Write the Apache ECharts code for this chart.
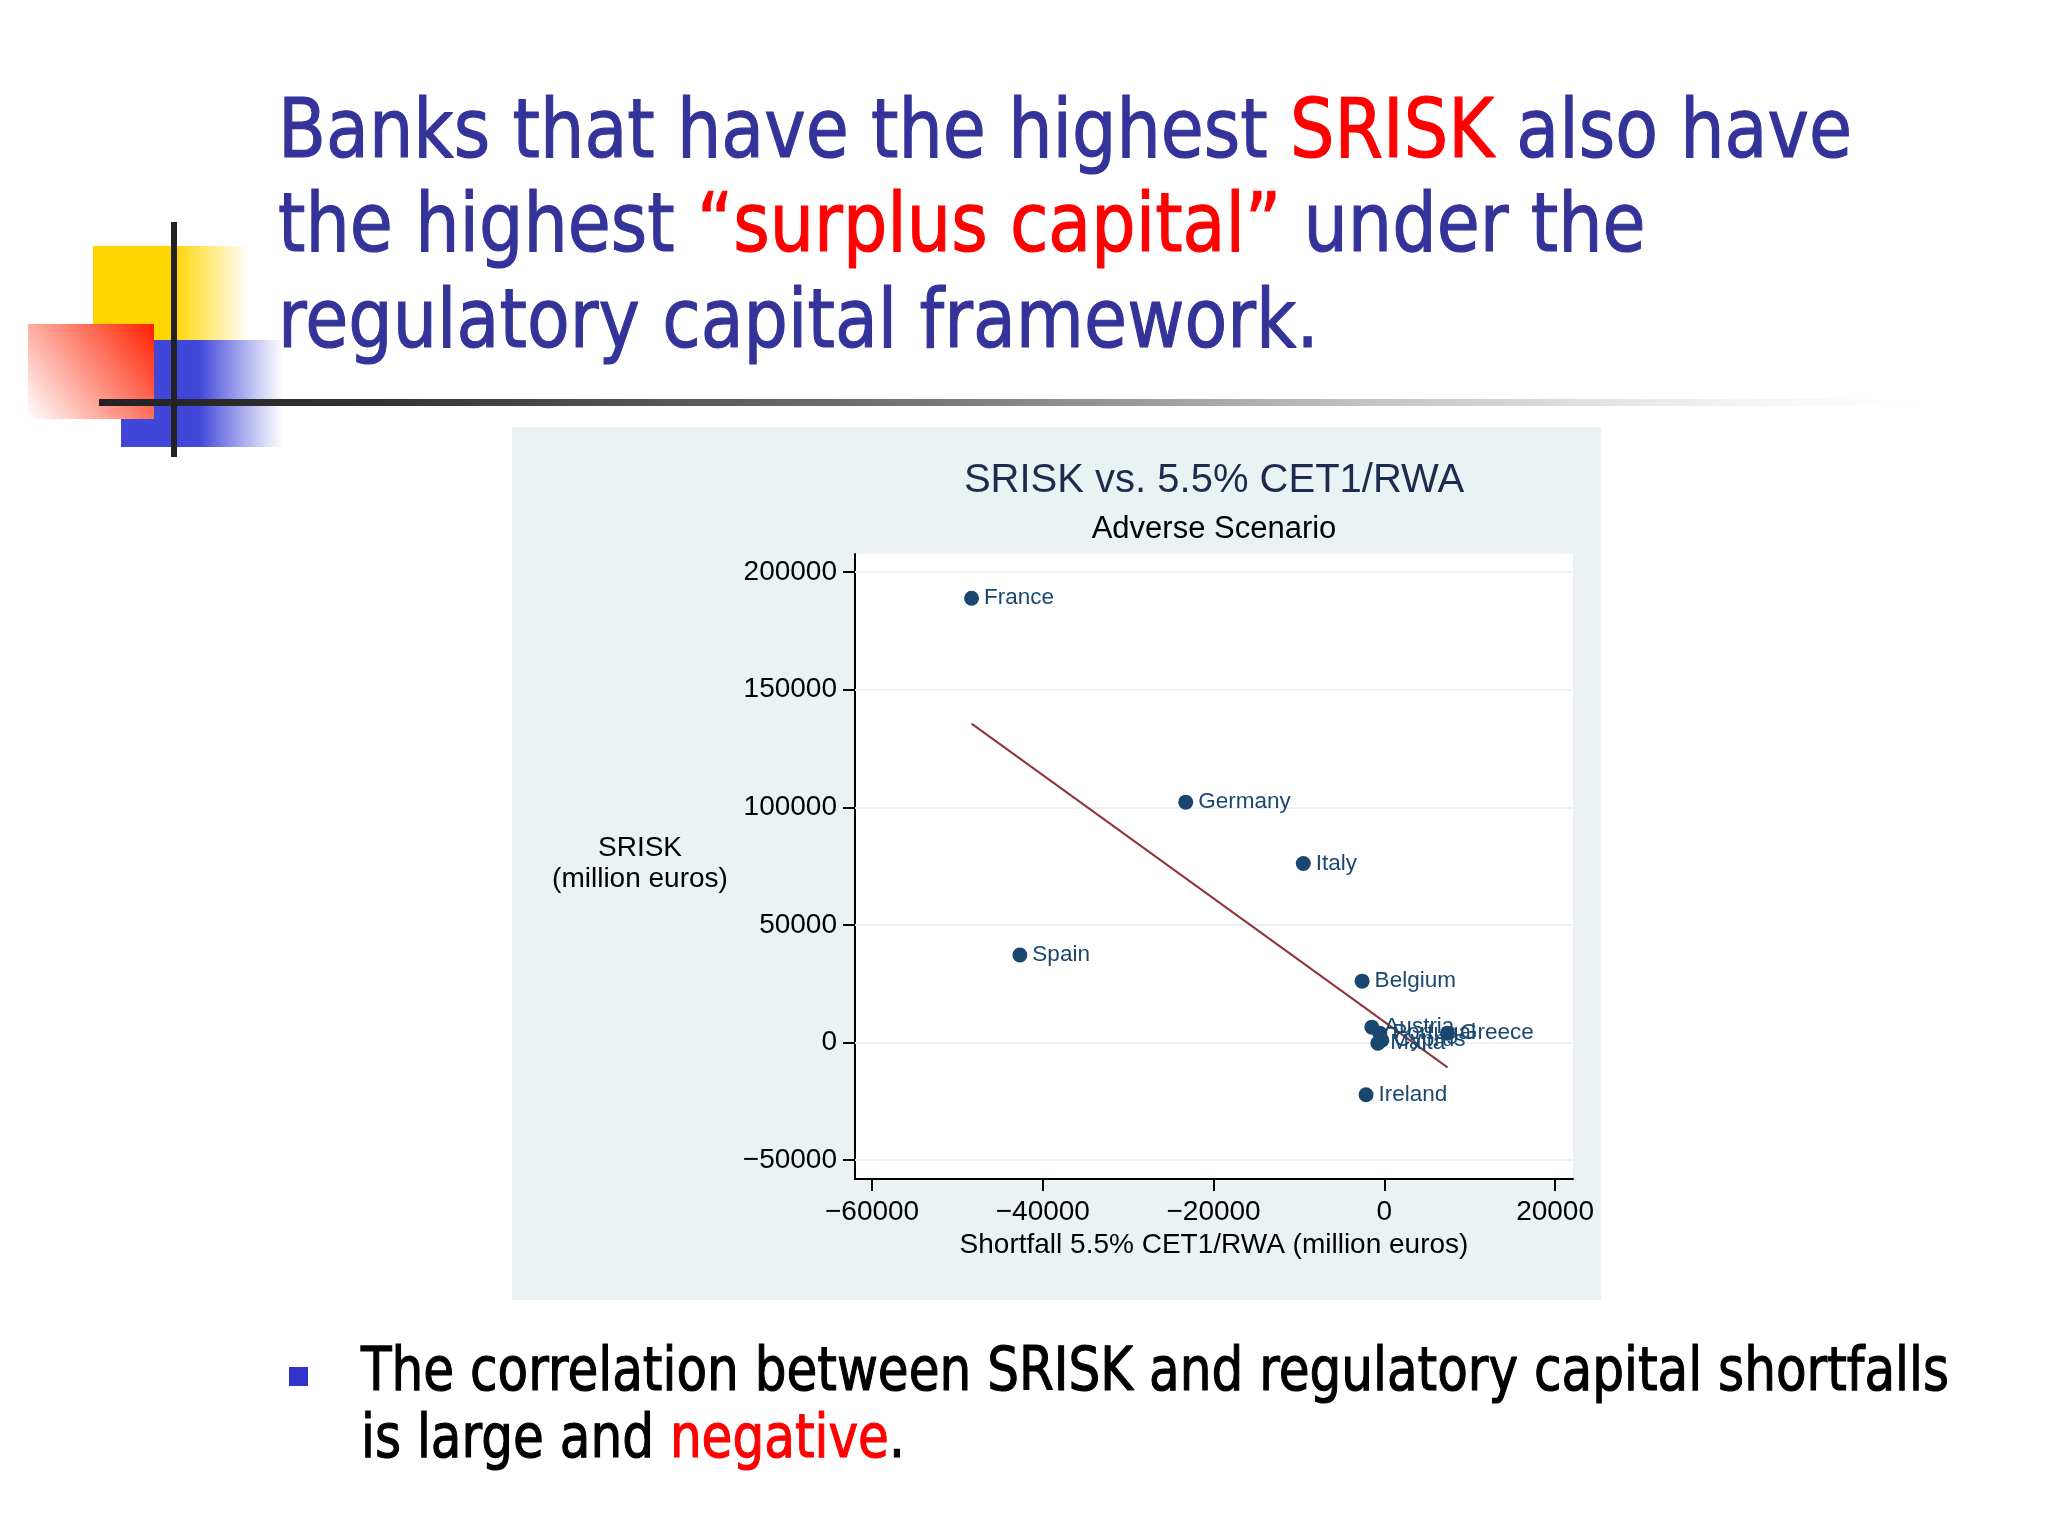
<!DOCTYPE html>
<html><head><meta charset="utf-8">
<script src="https://cdn.jsdelivr.net/npm/echarts@6/dist/echarts.min.js"></script>
<style>html,body{margin:0;padding:0;background:#fff}#c{width:2048px;height:1536px}</style>
</head><body><div id="c"></div>
<script>
// ---- data ----
const countries = ['France','Germany','Italy','Spain','Belgium','Austria','Portugal','Cyprus','Malta','Greece','Ireland'];
const shortfall = [-48350,-23260,-9490,-42690,-2600,-1460,-530,-290,-760,7400,-2140];
const srisk     = [188900,102200,76100,37200,26100,6550,4000,1000,-250,4000,-22200];
const fitX = [-48350, 7400];
const fitY = [135600, -10560];
const xTicks = [-60000,-40000,-20000,0,20000];
const yTicks = [-50000,0,50000,100000,150000,200000];

const SLIDE_FONT = "'DejaVu Sans', Verdana, sans-serif";
const CHART_FONT = "'Liberation Sans', Arial, Helvetica, sans-serif";
const mctx = document.createElement('canvas').getContext('2d');
function tw(str, size){ mctx.font = size + 'px ' + SLIDE_FONT; return mctx.measureText(str).width; }

const T1 = 'Banks that have the highest SRISK also have';
const TS = 82, titleScale = 1574 / tw(T1, TS);
const B1 = 'The correlation between SRISK and regulatory capital shortfalls';
const BS = 60, bulletScale = 1588 / tw(B1, BS);
const MID = 0.27; // baseline -> middle offset (fraction of font size)

function rich(size, col){
  return {fill: col, fontSize: size, fontFamily: SLIDE_FONT, stroke: col, lineWidth: 1.2};
}
function fmt(v){ return v < 0 ? '\u2212' + Math.abs(v) : String(v); }

const chart = echarts.init(document.getElementById('c'), null, {renderer:'canvas', width:2048, height:1536});

const graphic = [
  // chart panel background
  {type:'rect', z:-5, shape:{x:512,y:427,width:1089,height:873}, style:{fill:'#eaf2f3'}},
  // decoration
  {type:'rect', shape:{x:93,y:246,width:157,height:94},
    style:{fill:new echarts.graphic.LinearGradient(0,0,1,0,[{offset:0,color:'#ffd500'},{offset:0.52,color:'#ffd500'},{offset:1,color:'rgba(255,255,255,0.9)'}])}},
  {type:'rect', shape:{x:121,y:340,width:162,height:107},
    style:{fill:new echarts.graphic.LinearGradient(0,0,1,0,[{offset:0,color:'#4046d8'},{offset:0.48,color:'#4046d8'},{offset:1,color:'rgba(255,255,255,0.9)'}])}},
  {type:'rect', shape:{x:28,y:324,width:126,height:95},
    style:{fill:new echarts.graphic.LinearGradient(1,0,0,1,[{offset:0,color:'#ff2000'},{offset:1,color:'#ffffff'}])}},
  {type:'rect', shape:{x:99,y:399,width:1840,height:7},
    style:{fill:new echarts.graphic.LinearGradient(0,0,1,0,[{offset:0,color:'#222'},{offset:0.15,color:'#333'},{offset:0.45,color:'#777'},{offset:0.7,color:'#c6c6c6'},{offset:0.78,color:'#d8d8d8'},{offset:1,color:'rgba(245,245,245,0)'}])}},
  {type:'rect', shape:{x:171,y:222,width:6,height:235}, style:{fill:'#222'}},
  // slide title
  {type:'text', x:278, y:158 - MID*TS, scaleX:titleScale,
    style:{text:'{b|Banks that have the highest }{r|SRISK}{b| also have}', verticalAlign:'middle', fontSize:TS, fontFamily:SLIDE_FONT,
      rich:{b:rich(TS,'#333399'), r:rich(TS,'#ff0000')}}},
  {type:'text', x:278, y:252 - MID*TS, scaleX:titleScale,
    style:{text:'{b|the highest }{r|\u201csurplus capital\u201d}{b| under the}', verticalAlign:'middle', fontSize:TS, fontFamily:SLIDE_FONT,
      rich:{b:rich(TS,'#333399'), r:rich(TS,'#ff0000')}}},
  {type:'text', x:278, y:348 - MID*TS, scaleX:titleScale,
    style:{text:'{b|regulatory capital framework.}', verticalAlign:'middle', fontSize:TS, fontFamily:SLIDE_FONT,
      rich:{b:rich(TS,'#333399')}}},
  // bullet
  {type:'rect', shape:{x:289,y:1367,width:19,height:19}, style:{fill:'#3333cc'}},
  {type:'text', x:361, y:1391 - MID*BS, scaleX:bulletScale,
    style:{text:'{k|' + B1 + '}', verticalAlign:'middle', fontSize:BS, fontFamily:SLIDE_FONT, rich:{k:rich(BS,'#000')}}},
  {type:'text', x:361, y:1458 - MID*BS, scaleX:bulletScale,
    style:{text:'{k|is large and }{r|negative}{k|.}', verticalAlign:'middle', fontSize:BS, fontFamily:SLIDE_FONT,
      rich:{k:rich(BS,'#000'), r:rich(BS,'#ff0000')}}},
  // chart titles
  {type:'text', x:1214, y:481, style:{text:'SRISK vs. 5.5% CET1/RWA', align:'center', verticalAlign:'middle', fontSize:40, fontFamily:CHART_FONT, fill:'#1f2b4d'}},
  {type:'text', x:1214, y:529, style:{text:'Adverse Scenario', align:'center', verticalAlign:'middle', fontSize:31, fontFamily:CHART_FONT, fill:'#000'}},
  {type:'text', x:640, y:848, style:{text:'SRISK', align:'center', verticalAlign:'middle', fontSize:28, fontFamily:CHART_FONT, fill:'#000'}},
  {type:'text', x:640, y:879, style:{text:'(million euros)', align:'center', verticalAlign:'middle', fontSize:28, fontFamily:CHART_FONT, fill:'#000'}}
];

const option = {
  animation:false,
  backgroundColor:'#ffffff',
  textStyle:{fontFamily:CHART_FONT},
  graphic: graphic,
  grid:{left:855, top:554, width:718, height:625, show:true, backgroundColor:'#ffffff', borderWidth:0, containLabel:false},
  xAxis:{
    type:'value', min:-62000, max:22100,
    name:'Shortfall 5.5% CET1/RWA (million euros)', nameLocation:'middle', nameGap:52,
    nameTextStyle:{fontSize:28, color:'#000', fontFamily:CHART_FONT},
    axisLine:{show:true, onZero:false, lineStyle:{color:'#000', width:2}},
    axisTick:{show:true, customValues:xTicks, length:12, lineStyle:{color:'#000', width:2}},
    axisLabel:{show:true, customValues:xTicks, formatter:fmt, fontSize:28, color:'#000', margin:19, fontFamily:CHART_FONT},
    splitLine:{show:false}
  },
  yAxis:{
    type:'value', min:-58000, max:207700,
    axisLine:{show:true, onZero:false, lineStyle:{color:'#000', width:2}},
    axisTick:{show:true, customValues:yTicks, length:12, lineStyle:{color:'#000', width:2}},
    axisLabel:{show:true, customValues:yTicks, formatter:fmt, fontSize:28, color:'#000', margin:18, fontFamily:CHART_FONT},
    splitLine:{show:false}
  },
  series:[
    {type:'line', data:[], z:1, silent:true,
      markLine:{z:1, silent:true, symbol:'none', label:{show:false}, emphasis:{disabled:true},
        lineStyle:{color:'#eaf2f3', width:2, type:'solid'},
        data: yTicks.map(v => ({yAxis:v}))}},
    {type:'line', data: fitX.map((x,i) => [x, fitY[i]]), z:3, symbol:'none', showSymbol:false, silent:true,
      lineStyle:{color:'#90353b', width:2}},
    {type:'scatter', z:4, symbol:'circle', symbolSize:15,
      data: countries.map((n,i) => ({name:n, value:[shortfall[i], srisk[i]]})),
      itemStyle:{color:'#1a476f', opacity:1},
      label:{show:true, position:'right', distance:5, formatter:'{b}', color:'#1a476f', fontSize:22.5, fontFamily:CHART_FONT}}
  ]
};
chart.setOption(option);
</script>
</body></html>
